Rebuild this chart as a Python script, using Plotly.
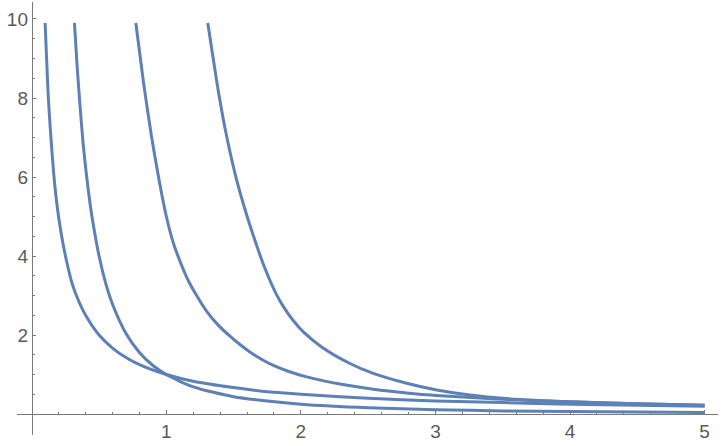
import numpy as np
import plotly.graph_objects as go

# ---- data ----
curve_a_x = [0.099, 0.11, 0.123, 0.14, 0.16, 0.18, 0.203, 0.23, 0.26, 0.3, 0.35, 0.4, 0.5, 0.6, 0.7,
             0.8, 1.0, 1.2, 1.5, 1.8, 2.0, 2.5, 3.0, 3.5, 4.0, 4.5, 5.0]
curve_a_y = [9.9, 9.0, 8.0, 7.1, 6.2, 5.5, 4.9, 4.35, 3.85, 3.3, 2.85, 2.5, 2.0, 1.67, 1.43,
             1.25, 1.0, 0.83, 0.67, 0.55, 0.5, 0.4, 0.33, 0.29, 0.25, 0.22, 0.2]

curve_b_x = [0.317, 0.335, 0.354, 0.38, 0.408, 0.43, 0.45, 0.5, 0.55, 0.6, 0.7, 0.8, 0.9, 1.0, 1.1,
             1.2, 1.35, 1.5, 1.75, 2.0, 2.5, 3.0, 3.5, 4.0, 4.5, 5.0]
curve_b_y = [9.9, 8.9, 8.0, 6.9, 6.0, 5.4, 4.94, 4.0, 3.3, 2.78, 2.04, 1.56, 1.23, 1.0, 0.83,
             0.69, 0.55, 0.44, 0.33, 0.25, 0.16, 0.11, 0.08, 0.063, 0.05, 0.04]

curve_c_x = [0.773, 0.83, 0.891, 0.95, 1.0, 1.05, 1.1, 1.16, 1.225, 1.3, 1.38, 1.473, 1.547, 1.621,
             1.7, 1.795, 1.9, 2.043, 2.17, 2.29, 2.538, 2.786, 3.033, 3.3, 3.6, 4.0, 4.5, 5.0]
curve_c_y = [9.9, 8.4, 7.0, 5.85, 5.0, 4.35, 3.88, 3.4, 3.0, 2.6, 2.27, 1.97, 1.76, 1.57,
             1.4, 1.23, 1.09, 0.94, 0.84, 0.76, 0.63, 0.535, 0.465, 0.41, 0.36, 0.31, 0.26, 0.22]

curve_d_x = [1.308, 1.39, 1.447, 1.517, 1.597, 1.66, 1.72, 1.815, 1.87, 1.94, 2.018, 2.154, 2.365,
             2.538, 2.786, 3.009, 3.256, 3.5, 4.0, 4.5, 5.0]
curve_d_y = [9.9, 8.1, 7.05, 6.0, 5.04, 4.38, 3.8, 3.05, 2.72, 2.38, 2.08, 1.70, 1.28,
             1.03, 0.78, 0.61, 0.48, 0.40, 0.31, 0.26, 0.22]

x_tick_vals = [1, 2, 3, 4, 5]
x_tick_text = ["1", "2", "3", "4", "5"]
y_tick_vals = [2, 4, 6, 8, 10]
y_tick_text = ["2", "4", "6", "8", "10"]

# ---- styling ----
LINE_COLOR = "#5E81B5"
AXIS_COLOR = "#7a7a7a"
LABEL_COLOR = "#5a5a5a"
FONT = "Liberation Sans, Arial, sans-serif"

x_range = [-0.11, 5.10]
y_range = [-0.53, 10.43]

fig = go.Figure()
for xs, ys in [(curve_a_x, curve_a_y), (curve_b_x, curve_b_y),
               (curve_c_x, curve_c_y), (curve_d_x, curve_d_y)]:
    fig.add_trace(go.Scatter(x=xs, y=ys, mode="lines",
                             line=dict(color=LINE_COLOR, width=3, shape="spline", smoothing=0.7),
                             hoverinfo="skip"))

x_minor = [round(v, 2) for v in np.arange(0.2, 5.0, 0.2) if abs(v - round(v)) > 1e-6]
y_minor = [round(v, 2) for v in np.arange(0.5, 10.01, 0.5) if abs(v / 2 - round(v / 2)) > 1e-6]

fig.update_layout(
    width=722, height=446,
    margin=dict(l=17, r=4, t=2, b=11, autoexpand=False),
    plot_bgcolor="white", paper_bgcolor="white",
    showlegend=False,
    xaxis=dict(
        range=x_range, showgrid=False, zeroline=False, automargin=False,
        showline=True, linecolor=AXIS_COLOR, linewidth=1,
        anchor="free", position=(0 - y_range[0]) / (y_range[1] - y_range[0]),
        tickmode="array", tickvals=x_tick_vals, ticktext=x_tick_text,
        ticks="inside", ticklen=4, tickwidth=1, tickcolor=AXIS_COLOR,
        tickfont=dict(family=FONT, size=19, color=LABEL_COLOR),
        minor=dict(tickmode="array", tickvals=x_minor, ticks="inside", ticklen=2.5,
                   tickwidth=1, tickcolor=AXIS_COLOR, showgrid=False),
    ),
    yaxis=dict(
        range=y_range, showgrid=False, zeroline=False, automargin=False,
        showline=True, linecolor=AXIS_COLOR, linewidth=1,
        anchor="free", position=(0 - x_range[0]) / (x_range[1] - x_range[0]),
        tickmode="array", tickvals=y_tick_vals, ticktext=y_tick_text,
        ticks="inside", ticklen=3.5, tickwidth=1, tickcolor=AXIS_COLOR,
        tickfont=dict(family=FONT, size=19, color=LABEL_COLOR),
        minor=dict(tickmode="array", tickvals=y_minor, ticks="inside", ticklen=2.5,
                   tickwidth=1, tickcolor=AXIS_COLOR, showgrid=False),
    ),
)

fig.write_html(
    "out.html",
    config={"displayModeBar": False, "staticPlot": True},
    post_script="document.body.style.margin='0px';document.body.style.padding='0px';"
                "document.body.style.overflow='hidden';",
)
